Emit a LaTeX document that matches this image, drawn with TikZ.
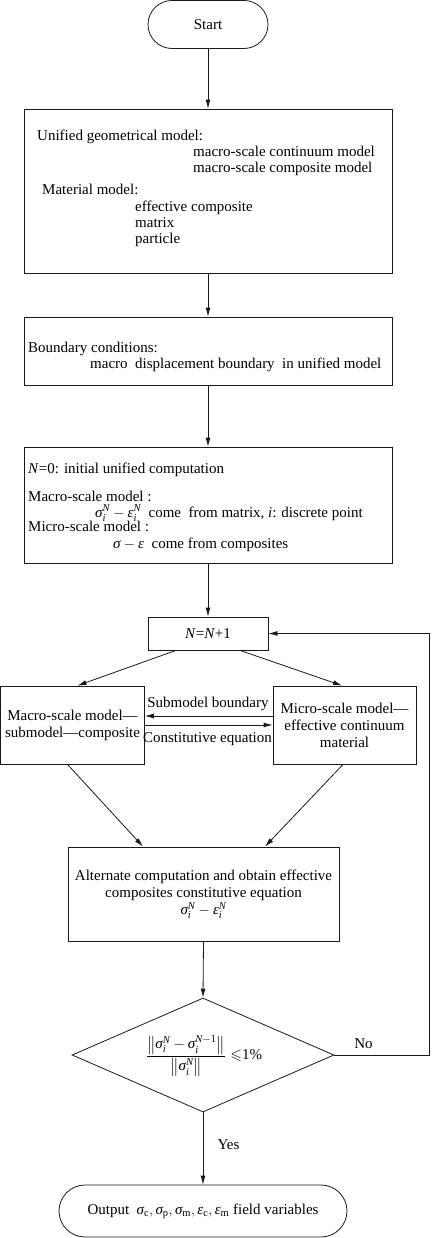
\documentclass[tikz,border=0pt]{standalone}
\usepackage{amsmath,amssymb}
\usepackage{fontspec}
\setmainfont{Liberation Serif}
\usetikzlibrary{arrows.meta,shapes.misc,shapes.geometric,calc}
\newcommand{\mitx}[1]{\text{\itshape #1}}
\newcommand{\rmtx}[1]{\text{\upshape #1}}
\begin{document}
\begin{tikzpicture}[x=1pt,y=-1pt,
  every node/.style={font=\fontsize{15}{17}\selectfont},
  ln/.style={line width=0.8pt, draw=black!90},
  box/.style={ln, draw, rectangle, inner sep=0pt, align=center},
  term/.style={ln, draw, rounded rectangle, inner sep=0pt, align=center},
  txt/.style={anchor=base west, inner sep=0pt},
  lbl/.style={anchor=base, inner sep=0pt},
  arr/.style={ln, -{Latex[length=9pt,width=5pt]}}]
\useasboundingbox (0,0) rectangle (431,1238);

% terminals and boxes
\node[term, minimum width=120pt, minimum height=48pt] (start) at (208,24.5) {Start};
\node[box, minimum width=368pt, minimum height=164pt] (b1) at (208,191) {};
\node[box, minimum width=368pt, minimum height=68pt] (b2) at (208,351) {};
\node[box, minimum width=368pt, minimum height=116pt] (b3) at (208,505) {};
\node[box, minimum width=120pt, minimum height=33pt] (nbox) at (208,633.5) {\textit{N}=\textit{N}+1};
\node[box, minimum width=144pt, minimum height=78pt] (left) at (72.5,725) {Macro-scale model—\\submodel—composite};
\node[box, minimum width=143pt, minimum height=78pt] (right) at (344.5,725) {Micro-scale model—\\effective continuum\\material};
\node[box, minimum width=271pt, minimum height=94pt] (alt) at (203.5,894) {Alternate computation and obtain effective\\composites constitutive equation\\$\mitx{σ}_{\mitx{i}}^{\mitx{N}}-\mitx{ε}_{\mitx{i}}^{\mitx{N}}$};
\node[ln, draw, diamond, minimum width=262pt, minimum height=114pt, inner sep=0pt] (dia) at (203,1055) {};
\node (crit) at (204,1056) {$\dfrac{\left\|\mitx{σ}_{\mitx{i}}^{\mitx{N}}-\mitx{σ}_{\mitx{i}}^{\mitx{N}-1}\right\|}{\left\|\mitx{σ}_{\mitx{i}}^{\mitx{N}}\right\|}\leqslant$1\%};
\node[term, minimum width=288pt, minimum height=52pt] (out) at (203,1211) {Output\ \ $\mitx{σ}_{\rmtx{c}},\mitx{σ}_{\rmtx{p}},\mitx{σ}_{\rmtx{m}},\mitx{ε}_{\rmtx{c}},\mitx{ε}_{\rmtx{m}}$ field variables};

% box 1 text
\node[txt] (t11) at (37,141) {Unified geometrical model:};
\node[txt] (t12) at (193,157) {macro-scale continuum model};
\node[txt] (t13) at (193,173) {macro-scale composite model};
\node[txt] (t14) at (42,195) {Material model:};
\node[txt] (t15) at (135,212) {effective composite};
\node[txt] (t16) at (135,228) {matrix};
\node[txt] (t17) at (135,244) {particle};
% box 2 text
\node[txt] (t21) at (28,352) {Boundary conditions:};
\node[txt] (t22) at (90,368) {macro\ \ displacement boundary\ \ in unified model};
% box 3 text
\node[txt] (t31) at (28,473) {\textit{N}=0: initial unified computation};
\node[txt] (t32) at (28,501) {Macro-scale model :};
\node[txt] (t33) at (95,517) {$\mitx{σ}_{\mitx{i}}^{\mitx{N}}-\mitx{ε}_{\mitx{i}}^{\mitx{N}}$\ \ come\ \ from matrix, \textit{i}: discrete point};
\node[txt] (t34) at (28,531) {Micro-scale model :};
\node[txt] (t35) at (113,548) {$\mitx{σ}-\mitx{ε}$\ \ come from composites};

% labels
\node[lbl] (lsub) at (208,707) {Submodel boundary};
\node[lbl] (lcon) at (207.5,742) {Constitutive equation};
\node[lbl] (lno) at (363.5,1048) {No};
\node[lbl] (lyes) at (228.5,1149) {Yes};

% connectors
\draw[arr] (start.south) -- (b1.north);
\draw[arr] (b1.south) -- (b2.north);
\draw[arr] (b2.south) -- (b3.north);
\draw[arr] (b3.south) -- (nbox.north);
\draw[arr] ([xshift=-32pt]nbox.south) -- ([xshift=5pt]left.north);
\draw[arr] ([xshift=32pt]nbox.south) -- ([xshift=-2.5pt]right.north);
\draw[arr] ([yshift=9pt]right.west) -- ([yshift=9pt]left.east);
\draw[arr] (left.east) -- (right.west);
\draw[arr] ([xshift=-5pt]left.south) -- ([xshift=-60.5pt]alt.north);
\draw[arr] ([xshift=-1.5pt]right.south) -- ([xshift=61.5pt]alt.north);
\draw[arr] (alt.south) -- (dia.north);
\draw[arr] (dia.south) -- (out.north);
\coordinate (c1) at (429.5,1055);
\coordinate (c2) at (429.5,633.5);
\draw[arr] (dia.east) -- (c1) -- (c2) -- (nbox.east);
\end{tikzpicture}
\end{document}
